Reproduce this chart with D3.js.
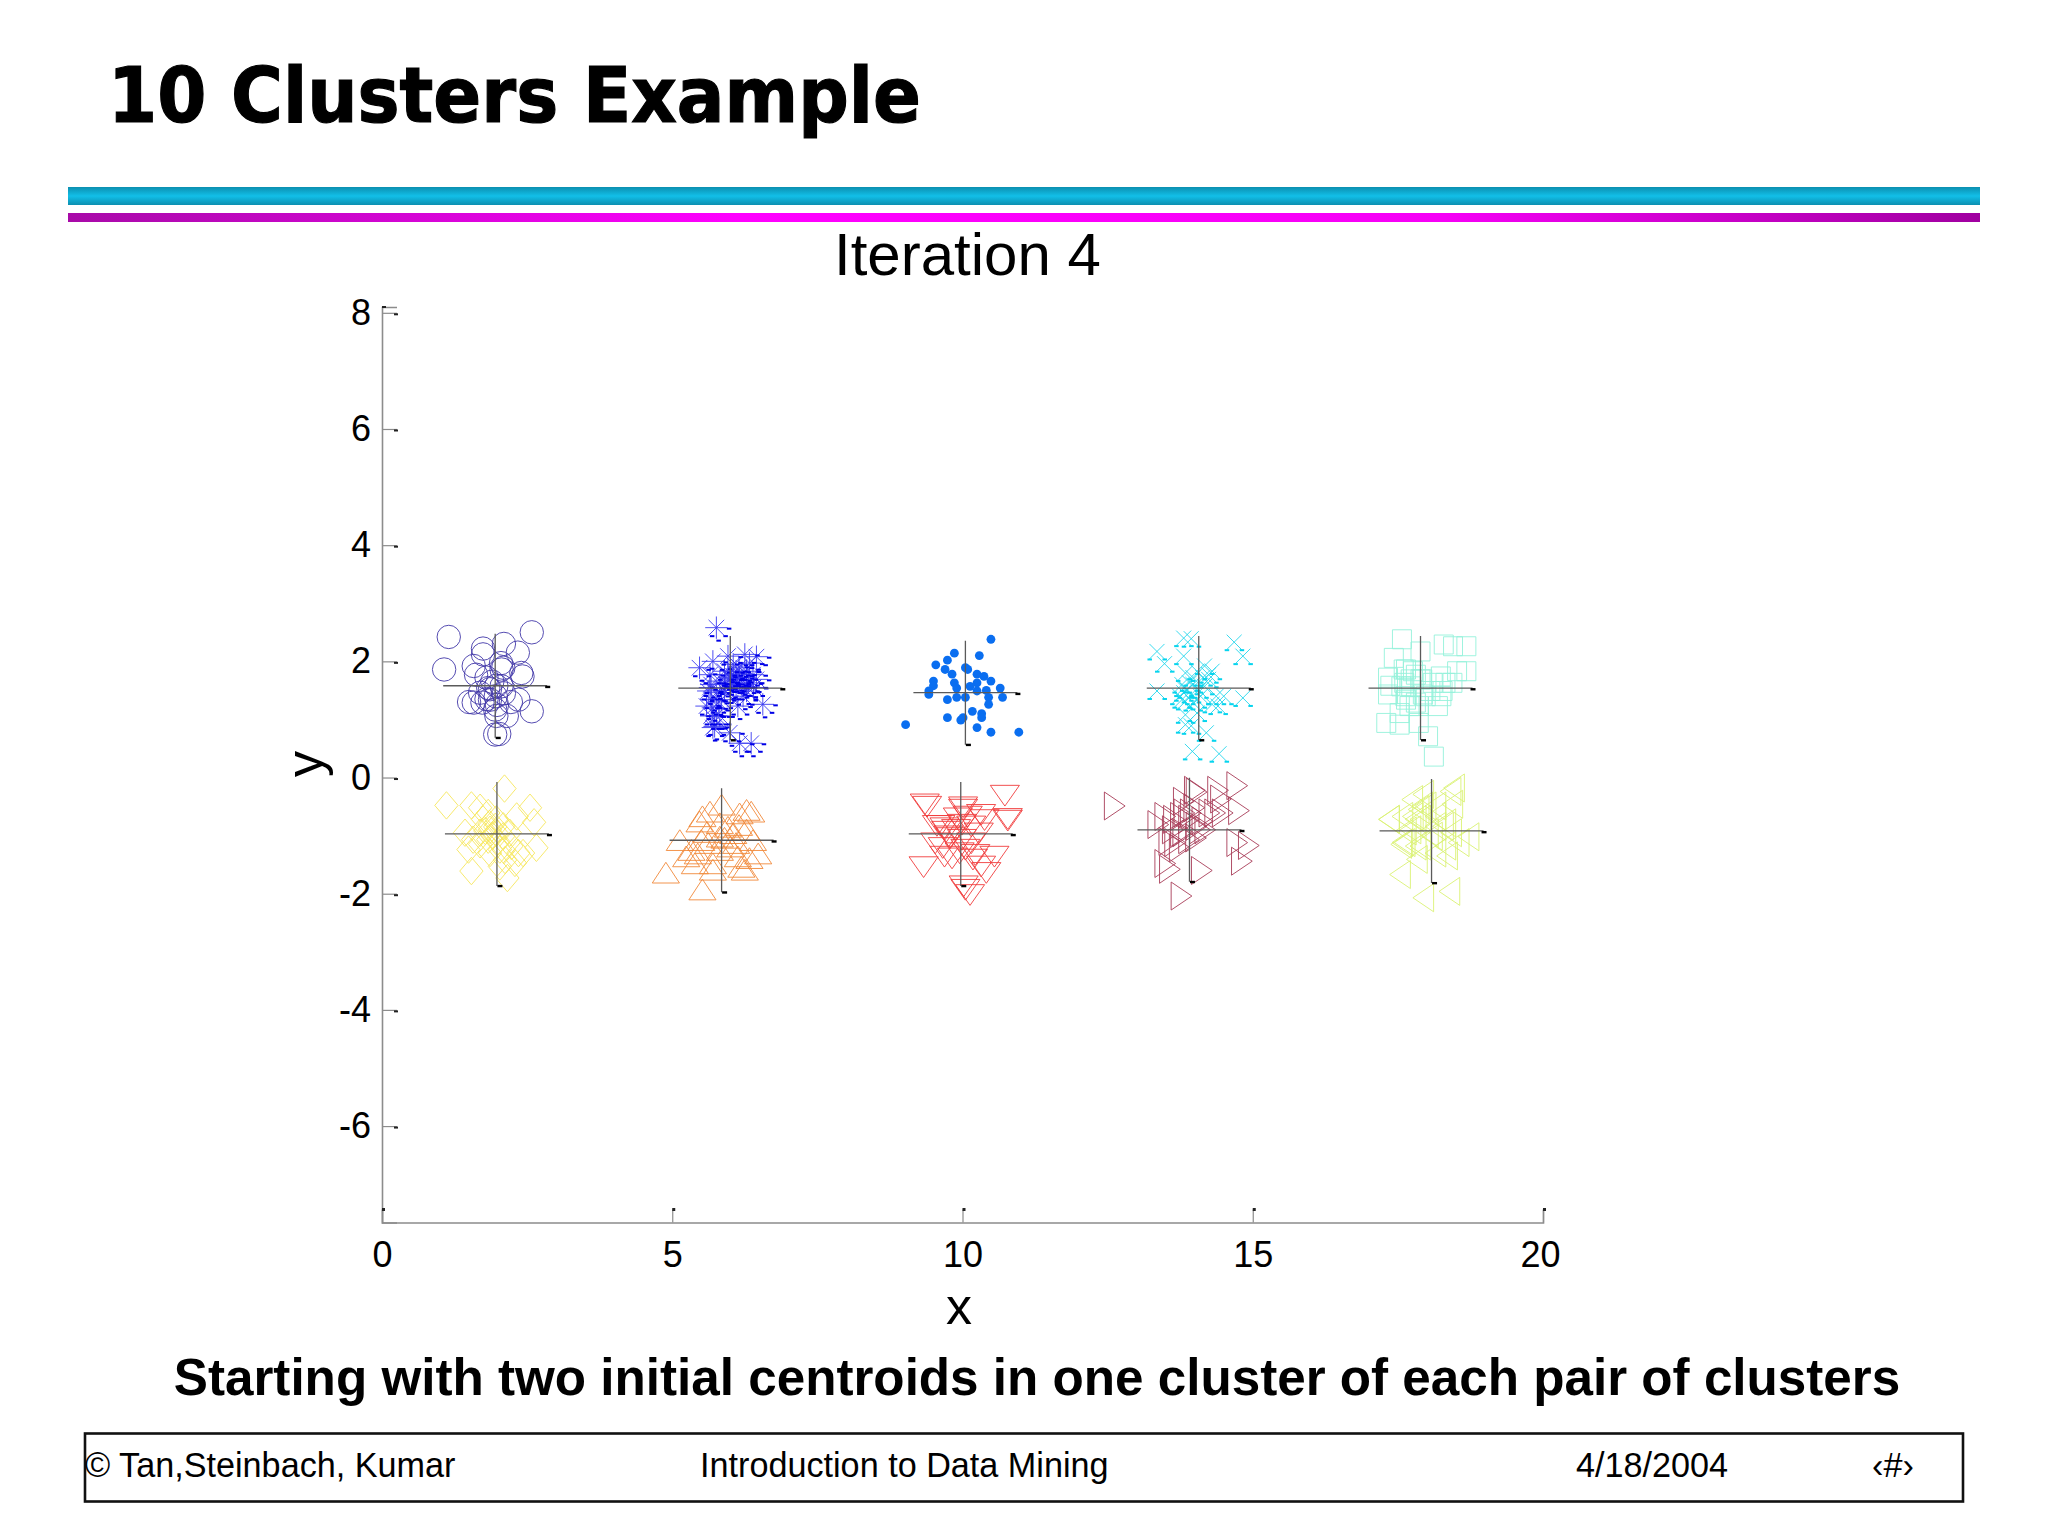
<!DOCTYPE html>
<html>
<head>
<meta charset="utf-8">
<title>10 Clusters Example</title>
<script src="https://d3js.org/d3.v7.min.js"></script>
<style>
  body { margin: 0; background: #fff; }
  text { font-family: "Liberation Sans", Arial, sans-serif; fill: #000; }
</style>
</head>
<body>
<svg id="slide" width="2048" height="1536"></svg>
<script>
var xTicks = [0, 5, 10, 15, 20];
var yTicks = [-6, -4, -2, 0, 2, 4, 6, 8];

// cluster points
var circleX = [1.15,2.58,1.07,1.74,2.10,2.34,1.74,1.58,1.62,2.05,2.09,1.80,2.40,2.42,2.06,1.83,1.97,2.06,1.86,1.50,1.58,1.73,1.96,2.22,2.58,1.95,2.15,1.97,1.95,2.02,2.35,1.86,1.69,1.90,1.80,2.10,1.98];
var circleY = [2.42,2.50,1.86,2.22,2.30,2.15,2.12,1.92,1.77,1.97,1.89,1.72,1.80,1.74,1.86,1.54,1.58,1.57,1.52,1.30,1.29,1.29,1.40,1.30,1.14,1.17,1.06,1.06,0.74,0.75,1.34,1.34,1.46,1.65,1.35,1.45,1.25];

var starX = [5.76,5.47,5.70,5.96,6.25,6.45,6.10,6.28,5.90,6.39,6.16,5.99,5.82,5.67,6.05,6.31,6.45,5.62,5.76,6.28,6.13,6.56,5.59,5.70,5.76,5.67,5.82,5.70,5.73,5.99,6.16,6.36,6.10,5.96,6.33,6.05,5.65,6.22,5.85,5.67,6.20,6.02,5.92,6.12,6.25,5.90,6.05,5.80,6.40,5.65,6.15];
var starY = [2.58,1.89,2.00,2.09,2.12,2.08,1.83,1.83,1.83,1.77,1.72,1.72,1.66,1.60,1.60,1.63,1.69,1.49,1.46,1.49,1.23,1.26,1.23,1.20,1.06,1.06,1.06,0.86,0.88,0.77,0.59,0.59,1.57,1.77,1.97,1.95,1.77,1.40,1.34,1.34,1.78,1.70,1.62,1.68,1.60,1.50,1.75,1.30,1.55,1.55,1.90];

var dotX = [10.49,9.86,10.29,9.74,9.54,10.05,9.70,10.09,9.82,10.25,10.37,10.49,9.50,9.86,10.25,9.50,9.90,10.13,9.42,10.65,10.41,10.25,9.42,10.45,10.69,9.74,9.90,10.05,10.45,10.17,10.33,10.33,9.74,10.01,9.97,10.25,9.02,10.49,10.97];
var dotY = [2.38,2.14,2.10,2.02,1.94,1.89,1.86,1.86,1.78,1.78,1.74,1.66,1.66,1.63,1.63,1.58,1.54,1.57,1.49,1.54,1.50,1.49,1.43,1.38,1.38,1.34,1.38,1.38,1.26,1.14,1.10,1.03,1.03,1.03,0.99,0.86,0.91,0.78,0.78];

var crossX = [13.35,13.81,13.94,14.68,14.83,13.48,13.81,14.17,14.04,14.30,13.84,13.35,13.78,13.91,14.14,14.24,13.81,13.94,14.10,14.37,14.50,14.83,13.74,13.97,14.30,14.40,13.84,14.04,13.84,13.94,14.20,13.96,14.42,13.81,13.97,13.84,13.97,14.07,13.87,13.78,14.17,14.24,14.04];
var crossY = [2.17,2.40,2.39,2.33,2.09,1.96,2.09,1.92,1.83,1.83,1.80,1.49,1.60,1.63,1.72,1.69,1.46,1.43,1.40,1.40,1.40,1.37,1.40,1.29,1.26,1.23,1.08,1.11,0.91,0.89,0.77,0.45,0.41,1.54,1.72,1.31,1.60,1.51,1.51,1.34,1.57,1.77,1.34];

var squareX = [17.57,18.29,18.45,18.68,17.89,17.43,17.60,18.52,18.68,17.33,17.76,17.89,17.37,18.32,17.33,17.63,18.06,18.25,17.70,17.86,18.19,17.30,17.53,17.86,18.02,18.12,17.56,17.73,17.93,17.53,17.64,17.81,17.61,17.72,17.92,18.24,18.44,17.64,17.81,17.98,18.27,18.10];
var squareY = [2.38,2.29,2.26,2.26,2.17,2.06,1.86,1.83,1.83,1.72,1.83,1.69,1.58,1.63,1.43,1.40,1.49,1.40,1.23,1.23,1.23,0.94,0.91,0.94,0.71,0.36,1.57,1.57,1.43,1.11,1.86,1.77,1.63,1.69,1.69,1.74,1.63,1.34,1.29,1.40,1.49,1.63];

var diamondX = [1.11,2.11,1.54,1.69,2.55,2.62,2.32,1.74,1.83,1.97,1.43,1.69,1.86,2.09,2.09,1.57,1.83,1.49,1.69,2.03,2.23,2.66,2.43,1.54,2.03,2.16,2.29,2.35,1.97,2.20,1.86,1.85,1.95,2.00,2.10,1.78,2.12,1.90];
var diamondY = [-0.48,-0.19,-0.48,-0.52,-0.52,-0.77,-0.67,-0.72,-0.61,-0.72,-0.95,-0.95,-0.90,-0.84,-1.01,-1.07,-1.07,-1.24,-1.15,-1.24,-1.18,-1.21,-1.30,-1.61,-1.53,-1.73,-1.47,-1.30,-0.95,-0.95,-1.30,-0.80,-0.85,-1.10,-1.25,-0.92,-1.42,-1.00];

var upX = [4.89,5.52,5.85,5.65,5.52,5.47,6.28,6.36,6.16,5.13,5.33,5.50,5.82,5.96,6.05,6.28,6.39,5.70,6.33,6.19,6.25,5.62,5.82,6.10,5.24,5.44,6.13,5.82,5.39,5.70,6.48,5.90,6.00,5.60,6.15];
var upY = [-1.70,-1.99,-0.53,-0.65,-0.73,-0.82,-0.62,-0.65,-0.68,-1.14,-1.31,-1.14,-0.85,-0.91,-1.02,-0.96,-1.14,-1.54,-1.45,-1.60,-1.65,-1.19,-1.08,-1.19,-1.42,-1.37,-1.42,-1.31,-1.54,-1.65,-1.37,-1.10,-1.25,-1.00,-0.88];

var downX = [9.35,9.39,10.73,10.78,10.78,10.01,10.01,10.09,10.32,9.56,9.69,9.72,9.76,9.92,10.15,9.53,10.28,10.55,9.33,9.69,9.82,10.05,10.32,10.41,10.02,10.05,10.13,10.22,9.99,9.62,9.89,9.99,9.79,9.66,9.95,10.15,10.38,10.18];
var downY = [-0.40,-0.44,-0.25,-0.65,-0.68,-0.45,-0.49,-0.61,-0.58,-0.77,-0.81,-0.87,-0.95,-0.64,-0.78,-1.07,-0.90,-1.30,-1.48,-1.30,-1.33,-1.18,-1.47,-1.58,-1.81,-1.87,-1.96,-1.27,-1.01,-0.77,-0.84,-0.75,-0.98,-1.15,-1.24,-1.07,-0.67,-1.35];

var rightX = [12.56,14.67,14.34,14.39,14.70,13.94,13.97,13.75,13.31,13.43,13.70,13.76,13.93,14.19,14.29,13.56,13.70,13.50,13.60,13.96,14.12,14.03,14.67,14.87,14.75,13.43,13.51,14.06,13.71,14.42,13.84,13.97,13.74,13.84,13.58,13.68,14.07,13.87];
var rightY = [-0.49,-0.14,-0.22,-0.37,-0.57,-0.22,-0.25,-0.41,-0.81,-0.67,-0.67,-0.61,-0.52,-0.61,-0.61,-0.90,-0.95,-1.10,-1.12,-1.04,-0.90,-0.90,-1.12,-1.17,-1.44,-1.48,-1.58,-1.60,-2.04,-0.61,-0.72,-0.84,-0.95,-1.07,-0.72,-1.21,-0.75,-0.61];

var leftX = [18.53,18.00,17.60,18.00,18.45,17.41,18.50,18.21,17.98,17.82,17.95,18.34,17.78,18.08,18.48,17.68,17.95,18.21,18.41,17.89,17.62,18.78,18.47,17.81,17.92,18.04,17.41,17.64,17.87,18.21,18.38,18.15,17.64,17.87,18.38,18.61,18.21,17.70];
var leftY = [-0.18,-0.29,-1.67,-2.07,-1.96,-0.72,-0.46,-0.49,-0.49,-0.67,-0.72,-0.84,-0.90,-0.95,-0.95,-1.12,-1.18,-1.30,-1.35,-1.41,-1.15,-1.02,-0.24,-0.38,-0.55,-0.49,-0.72,-0.67,-0.72,-0.67,-0.78,-1.01,-1.12,-1.18,-1.18,-1.12,-0.84,-0.92];

var centroidX = [1.95,6.00,10.05,14.07,17.89,1.98,5.85,9.97,13.91,18.08];
var centroidY = [1.58,1.54,1.46,1.54,1.54,-0.97,-1.08,-0.97,-0.90,-0.92];

var svg = d3.select("#slide");

var x = d3.scaleLinear().domain([0, 20]).range([382, 1543]);
var y = d3.scaleLinear().domain([-7.66, 8.1]).range([1222.5, 307]);

// header bars
var defs = svg.append("defs");
var cyanGrad = defs.append("linearGradient").attr("id", "cyanBar").attr("x1", 0).attr("x2", 0).attr("y1", 0).attr("y2", 1);
[[0, "#0c8fb0"], [0.5, "#12bfe8"], [1, "#0c8fb0"]].forEach(function(s) {
  cyanGrad.append("stop").attr("offset", s[0]).attr("stop-color", s[1]);
});
var magentaGrad = defs.append("linearGradient").attr("id", "magentaBar");
[[0, "#a80aa8"], [0.35, "#ff00ff"], [0.72, "#f600f6"], [1, "#a000a0"]].forEach(function(s) {
  magentaGrad.append("stop").attr("offset", s[0]).attr("stop-color", s[1]);
});
svg.append("rect").attr("x", 68).attr("y", 187).attr("width", 1912).attr("height", 18).attr("fill", "url(#cyanBar)");
svg.append("rect").attr("x", 68).attr("y", 213).attr("width", 1912).attr("height", 9).attr("fill", "url(#magentaBar)");

svg.append("text").attr("x", 108).attr("y", 122)
  .attr("textLength", 813).attr("lengthAdjust", "spacingAndGlyphs")
  .attr("stroke", "#000").attr("stroke-width", 1.2)
  .style("font-family", "'DejaVu Sans'").style("font-weight", "bold").style("font-size", "77px")
  .text("10 Clusters Example");

svg.append("text").attr("x", 834).attr("y", 275).style("font-size", "60px").text("Iteration 4");

// axes
var xAxis = d3.axisBottom(x).tickValues(xTicks).tickSize(-13).tickPadding(19).tickFormat(String);
var yAxis = d3.axisLeft(y).tickValues(yTicks).tickSize(-15).tickPadding(11).tickFormat(String);

var gx = svg.append("g").attr("transform", "translate(0,1222.5)").call(xAxis);
var gy = svg.append("g").attr("transform", "translate(382,0)").call(yAxis);
[gx, gy].forEach(function(g) {
  g.selectAll(".domain").attr("stroke", "#8c8c8c").attr("stroke-width", 1.6);
  g.selectAll(".tick line").attr("stroke", "#8c8c8c").attr("stroke-width", 1.2);
  g.selectAll("text").style("font-size", "36px").style("font-family", "'Liberation Sans'").attr("fill", "#000");
});
gx.selectAll(".tick text").attr("dx", function(d) { return d == 20 ? -3 : 0; });

// little black tips the export left on the ticks
svg.append("g").selectAll("rect").data(xTicks).join("rect")
  .attr("x", function(d) { return x(d); }).attr("y", 1208).attr("width", 3).attr("height", 3).attr("fill", "#222");
svg.append("g").selectAll("rect").data(yTicks).join("rect")
  .attr("x", 394).attr("y", function(d) { return y(d) + 0.5; }).attr("width", 4).attr("height", 2).attr("fill", "#222");
svg.append("rect").attr("x", x(0)).attr("y", y(8.1) - 1).attr("width", 4).attr("height", 2).attr("fill", "#222");

svg.append("text").attr("x", 959).attr("y", 1324).attr("text-anchor", "middle").style("font-size", "52px").text("x");
svg.append("text").attr("transform", "translate(322,764) rotate(-90)").attr("text-anchor", "middle").style("font-size", "52px").text("y");

// marker shapes, size is the square of the radius
function outline(points) {
  return {
    draw: function(ctx, size) {
      var r = Math.sqrt(size);
      points.forEach(function(p, i) {
        if (i == 0) ctx.moveTo(p[0] * r, p[1] * r);
        else ctx.lineTo(p[0] * r, p[1] * r);
      });
      ctx.closePath();
    }
  };
}
function spokes(list) {
  return {
    draw: function(ctx, size) {
      var r = Math.sqrt(size);
      list.forEach(function(p) {
        ctx.moveTo(-p[0] * r, -p[1] * r);
        ctx.lineTo(p[0] * r, p[1] * r);
      });
    }
  };
}
var triUp = outline([[0, -1], [0.97, 0.48], [-0.97, 0.48]]);
var triDown = outline([[0, 1], [1.04, -0.48], [-1.04, -0.48]]);
var triRight = outline([[1, 0], [-0.48, -1], [-0.48, 1]]);
var triLeft = outline([[-1, 0], [0.48, -1], [0.48, 1]]);
var diamond = outline([[0, -1], [0.85, 0], [0, 1], [-0.85, 0]]);
var square = outline([[-1, -1], [1, -1], [1, 1], [-1, 1]]);
var star = spokes([[1, 0], [0, 1], [0.7, 0.7], [0.7, -0.7]]);
var ex = spokes([[0.7, 0.7], [0.7, -0.7]]);
var plus = spokes([[1, 0], [0, 1]]);

var clusters = [
  { xs: circleX, ys: circleY, type: d3.symbolCircle, size: 430, stroke: "#4238a8", width: 0.9 },
  { xs: starX, ys: starY, type: star, size: 125, stroke: "#3a3af0", width: 0.9, tips: [[12.5, 1], [9, 8.5], [2, 13], [-4.5, 8.5]], tipColor: "#0000e6" },
  { xs: dotX, ys: dotY, type: d3.symbolCircle, size: 61, fill: "#0a6ef0" },
  { xs: crossX, ys: crossY, type: ex, size: 115, stroke: "#22d6ec", width: 0.9, tips: [[-7.5, 8], [7.5, 8]], tipColor: "#06d4ee" },
  { xs: squareX, ys: squareY, type: square, size: 90, stroke: "#94f2da", width: 0.9 },
  { xs: diamondX, ys: diamondY, type: diamond, size: 188, stroke: "#f6e65c", width: 0.9 },
  { xs: upX, ys: upY, type: triUp, size: 196, stroke: "#f0893a", width: 0.9 },
  { xs: downX, ys: downY, type: triDown, size: 196, stroke: "#f03c3c", width: 0.9 },
  { xs: rightX, ys: rightY, type: triRight, size: 196, stroke: "#a83c58", width: 0.9 },
  { xs: leftX, ys: leftY, type: triLeft, size: 196, stroke: "#daf274", width: 0.9 }
];

clusters.forEach(function(c) {
  var pts = d3.zip(c.xs, c.ys);
  var g = svg.append("g");
  g.selectAll("path").data(pts).join("path")
    .attr("d", d3.symbol().type(c.type).size(c.size))
    .attr("transform", function(d) { return "translate(" + x(d[0]) + "," + y(d[1]) + ")"; })
    .attr("fill", c.fill || "none")
    .attr("stroke", c.stroke || "none")
    .attr("stroke-width", c.width || 0);
  if (c.tips) {
    pts.forEach(function(d) {
      g.append("g").selectAll("rect").data(c.tips).join("rect")
        .attr("x", function(t) { return x(d[0]) + t[0] - 2; })
        .attr("y", function(t) { return y(d[1]) + t[1] - 1; })
        .attr("width", 4.5).attr("height", 2)
        .attr("fill", c.tipColor);
    });
  }
});

// centroid crosshairs
var centroids = d3.zip(centroidX, centroidY);
svg.append("g").selectAll("path").data(centroids).join("path")
  .attr("d", d3.symbol().type(plus).size(2704))
  .attr("transform", function(d) { return "translate(" + x(d[0]) + "," + y(d[1]) + ")"; })
  .attr("fill", "none").attr("stroke", "#5a5a5a").attr("stroke-width", 1.3);
svg.append("g").selectAll("rect").data(centroids).join("rect")
  .attr("x", function(d) { return x(d[0]) + 50; }).attr("y", function(d) { return y(d[1]); })
  .attr("width", 5).attr("height", 2.4).attr("fill", "#000");
svg.append("g").selectAll("rect").data(centroids).join("rect")
  .attr("x", function(d) { return x(d[0]) + 0.5; }).attr("y", function(d) { return y(d[1]) + 51; })
  .attr("width", 5).attr("height", 2.4).attr("fill", "#000");

svg.append("text").attr("x", 1037).attr("y", 1395).attr("text-anchor", "middle")
  .style("font-weight", "bold").style("font-size", "51.2px")
  .text("Starting with two initial centroids in one cluster of each pair of clusters");

// footer box
svg.append("rect").attr("x", 85).attr("y", 1433.5).attr("width", 1878).attr("height", 68)
  .attr("fill", "none").attr("stroke", "#111").attr("stroke-width", 2.6);
var footerText = ["© Tan,Steinbach, Kumar", "Introduction to Data Mining", "4/18/2004", "‹#›"];
var footerLeft = [85, 700, 1576, 1872];
svg.append("g").selectAll("text").data(footerText).join("text")
  .attr("x", function(d, i) { return footerLeft[i]; })
  .attr("y", 1477)
  .style("font-size", "34.2px")
  .text(function(d) { return d; });
</script>
</body>
</html>
